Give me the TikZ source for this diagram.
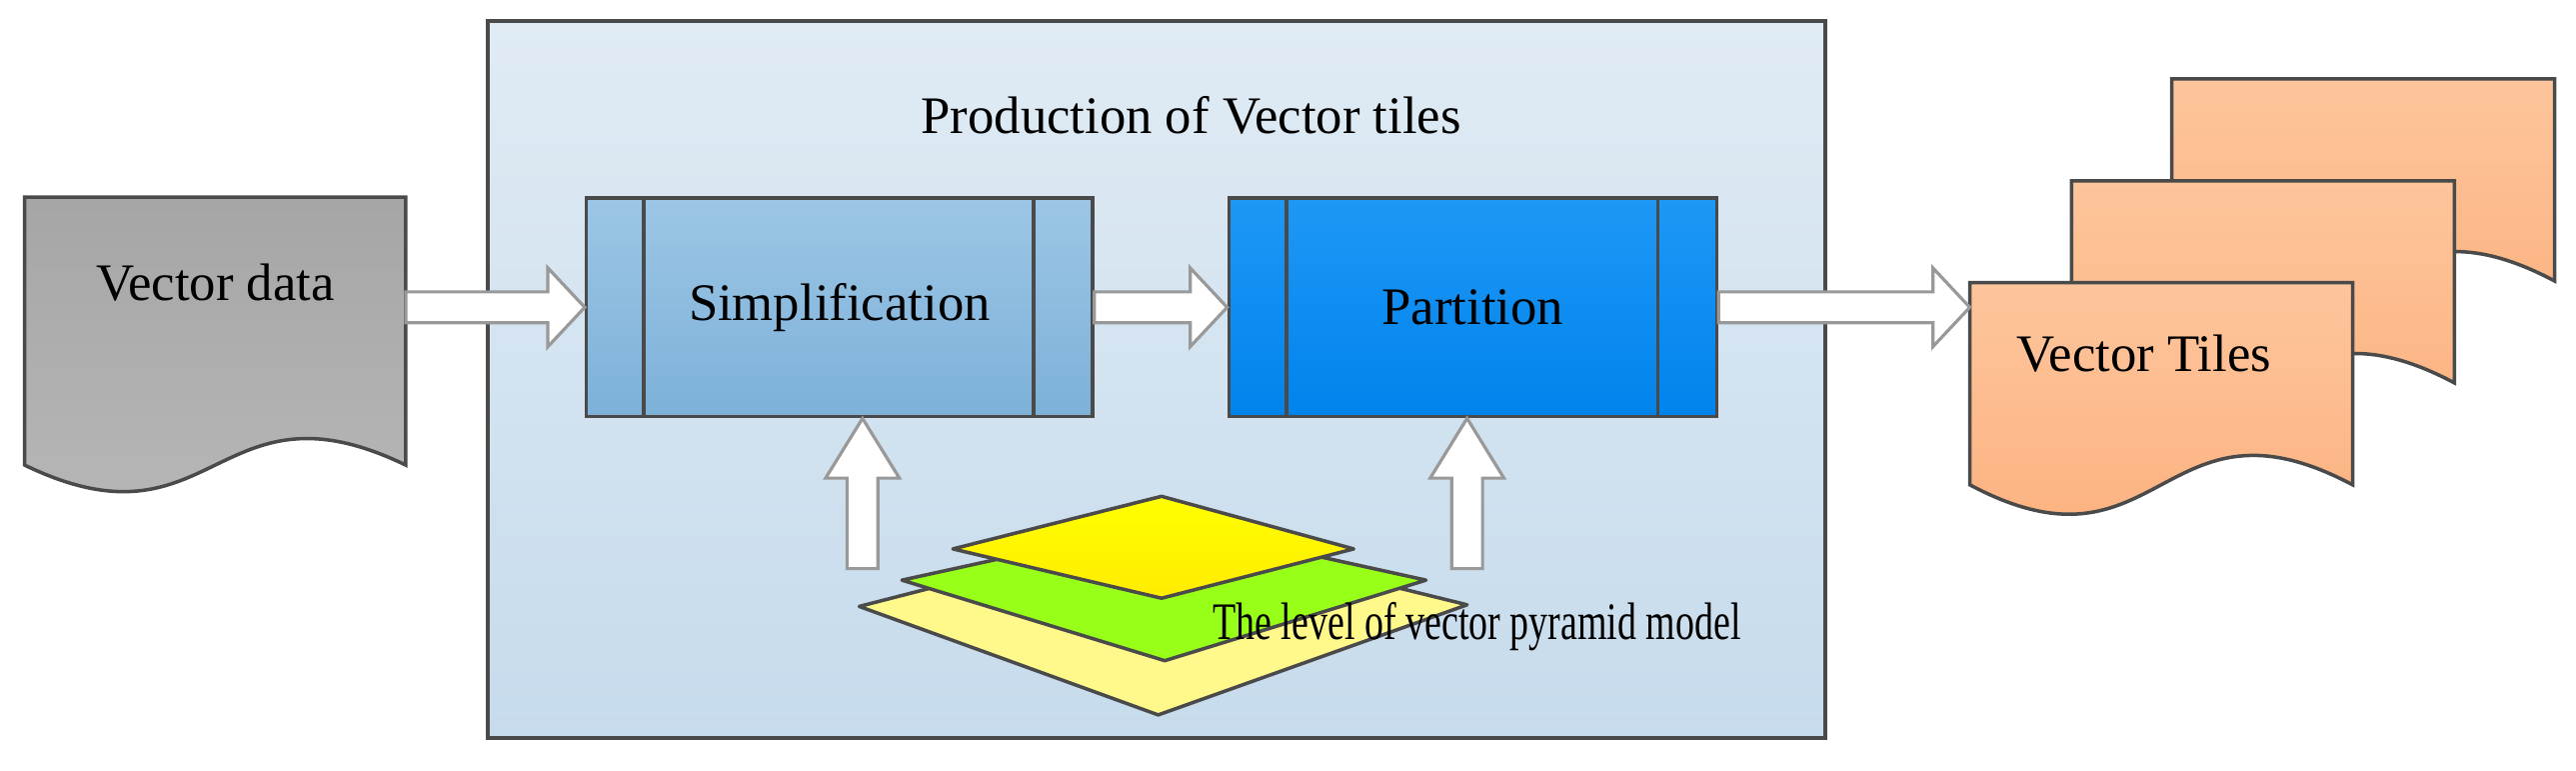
\documentclass[tikz,border=0pt]{standalone}
\usepackage{fontspec}
\setmainfont{Liberation Serif}
\usetikzlibrary{calc}
\definecolor{edge}{HTML}{4A4A4A}
\definecolor{boxtop}{HTML}{E0EBF4}
\definecolor{boxbot}{HTML}{C6DBEC}
\definecolor{simtop}{HTML}{9CC6E6}
\definecolor{simbot}{HTML}{7DB1D8}
\definecolor{partop}{HTML}{1E98F6}
\definecolor{parbot}{HTML}{0083EC}
\definecolor{tiletop}{HTML}{FDC59C}
\definecolor{tilebot}{HTML}{FCAE7A}
\tikzset{
  lbl/.style={font=\fontsize{15}{17}\selectfont, inner sep=0pt},
  proc/.style={draw=edge, line width=1pt, minimum width=308*0.16435mm, minimum height=133*0.16435mm, inner sep=0pt},
  barrow/.style={draw=gray!80, line width=0.9pt, fill=white},
  doc/.style={draw=edge, line width=1pt, top color=tiletop, bottom color=tilebot},
  layer/.style={draw=edge, line width=1pt, line join=round}
}
% document shape: left, top, right, bottom, wave depth
\newcommand\docshape[6]{%
  \path[#1] (#2,#3) -- (#4,#3) -- (#4,#5)
    .. controls ($(#2,#5)!0.5!(#4,#5)+(0,-2*#6)$) and ($(#2,#5)!0.5!(#4,#5)+(0,2*#6)$) .. (#2,#5) -- cycle;}
% horizontal block arrow between two anchors
\newcommand\harrow[2]{%
  \draw[barrow] let \p1=(#1), \p2=(#2) in
    (\x1,\y1+4.4pt) -- (\x2-10.5pt,\y1+4.4pt) -- (\x2-10.5pt,\y1+11.2pt) -- (\x2,\y1)
    -- (\x2-10.5pt,\y1-11.2pt) -- (\x2-10.5pt,\y1-4.4pt) -- (\x1,\y1-4.4pt) -- cycle;}
% vertical (upward) block arrow
\newcommand\varrow[2]{%
  \draw[barrow] let \p1=(#1), \p2=(#2) in
    (\x1-4.4pt,\y1) -- (\x1-4.4pt,\y2-17pt) -- (\x1-10.5pt,\y2-17pt) -- (\x1,\y2)
    -- (\x1+10.5pt,\y2-17pt) -- (\x1+4.4pt,\y2-17pt) -- (\x1+4.4pt,\y1) -- cycle;}
\begin{document}
\begin{tikzpicture}[x=0.16435mm, y=-0.16435mm]
  \useasboundingbox (0,0) rectangle (1568,469);

  % production frame
  \node[draw=edge, line width=1.2pt, top color=boxtop, bottom color=boxbot,
        minimum width=814*0.16435mm, minimum height=436*0.16435mm, inner sep=0pt]
        (frame) at (704,231) {};
  \node[lbl] (title) at (725,70) {Production of Vector tiles};

  % input document
  \docshape{draw=edge, line width=1pt, top color=gray!70, bottom color=gray!55}{15}{120}{247}{283}{28}
  \node[lbl] (vd) at (131,172) {Vector data};
  \coordinate (vdE) at (247,187);

  % processes
  \node[proc, top color=simtop, bottom color=simbot] (simp) at (511,187) {};
  \draw[edge, line width=1pt] ([xshift=36*0.16435mm]simp.north west) -- ([xshift=36*0.16435mm]simp.south west)
        ([xshift=-37*0.16435mm]simp.north east) -- ([xshift=-37*0.16435mm]simp.south east);
  \node[lbl] at (simp) {Simplification};
  \node[proc, minimum width=297*0.16435mm, top color=partop, bottom color=parbot] (part) at (896.5,187) {};
  \draw[edge, line width=1pt] ([xshift=36*0.16435mm]part.north west) -- ([xshift=36*0.16435mm]part.south west)
        ([xshift=-37*0.16435mm]part.north east) -- ([xshift=-37*0.16435mm]part.south east);
  \node[lbl] at (part) {Partition};

  % output tiles
  \docshape{doc}{1322}{48}{1555}{171}{31}
  \docshape{doc}{1261}{110}{1494}{233}{31}
  \docshape{doc}{1199}{172}{1432}{295}{31}
  \node[lbl] (vt) at (1305,215) {Vector Tiles};
  \coordinate (vtW) at (1199,187);

  % pyramid levels
  \draw[layer, fill=yellow!45] (523,369) -- (706,322) -- (893,368) -- (705,435) -- cycle;
  \draw[layer, fill=green!45!yellow!90] (549,353) -- (709,318) -- (868,353) -- (709,402) -- cycle;
  \draw[layer, top color=yellow, bottom color=yellow!85!orange] (580,334) -- (707,302) -- (824,334) -- (707,364) -- cycle;
  \node[lbl, xscale=0.72, anchor=west] (pl) at (738,381) {The level of vector pyramid model};
  \coordinate (pa1) at (525,346);
  \coordinate (pa2) at (893,346);

  % connectors
  \harrow{vdE}{simp.west}
  \harrow{simp.east}{part.west}
  \harrow{part.east}{vtW}
  \varrow{pa1}{pa1 |- simp.south}
  \varrow{pa2}{pa2 |- part.south}
\end{tikzpicture}
\end{document}
